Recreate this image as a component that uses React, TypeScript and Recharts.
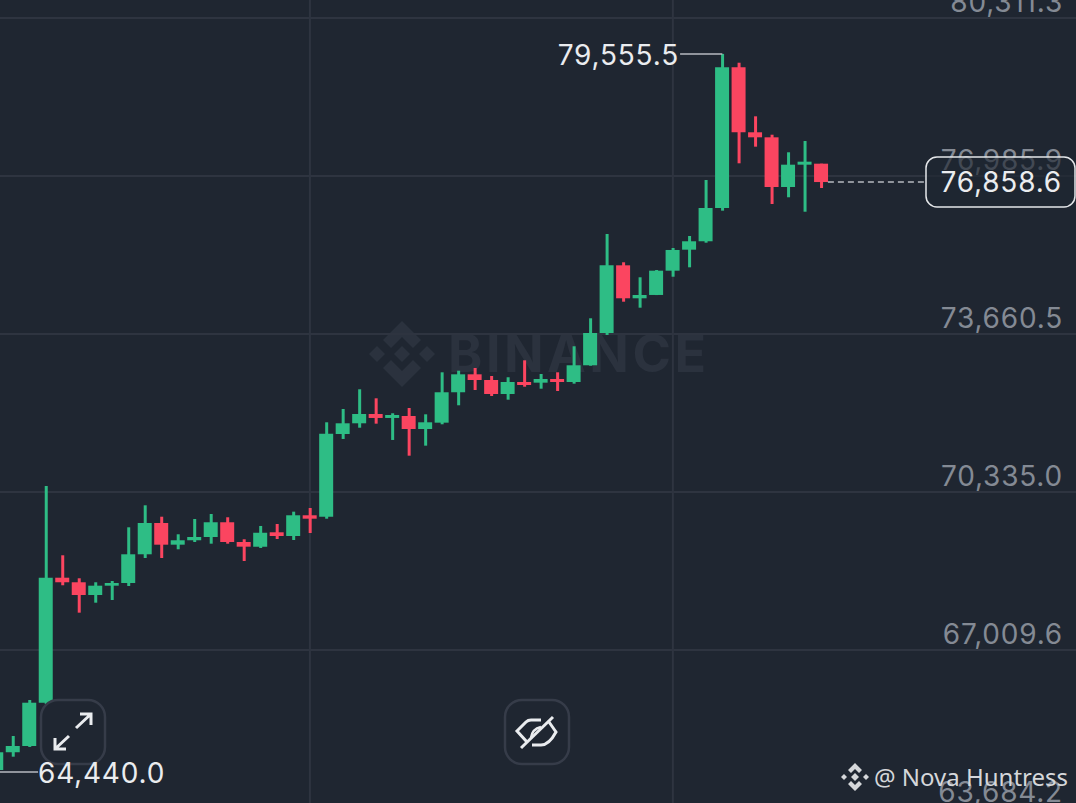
import {
  Bar,
  CartesianGrid,
  Cell,
  ComposedChart,
  ReferenceLine,
  XAxis,
  YAxis,
} from 'recharts';

const opens = [
  64484, 64857, 64989, 65900, 68531, 68435, 68167, 68363, 68420, 69024, 69683, 69226, 69319,
  69388, 69698, 69283, 69184, 69487, 69409, 69845, 69815, 71556, 71781, 71977, 71893, 71935,
  71661, 71794, 72434, 72812, 72692, 72398, 72650, 72636, 72713, 72650, 73002, 73682, 75106,
  74412, 74482, 74993, 75435, 75612, 76312, 79274, 77906, 77800, 76754, 77224, 77245,
];
const closes = [
  64857, 64989, 65900, 68531, 68435, 68167, 68363, 68420, 69024, 69683, 69226, 69319, 69388,
  69698, 69283, 69184, 69479, 69409, 69845, 69773, 71562, 71781, 71977, 71893, 71956, 71661,
  71802, 72434, 72812, 72692, 72398, 72650, 72587, 72713, 72650, 73002, 73682, 75106, 74412,
  74481, 74993, 75429, 75612, 76312, 79274, 77906, 77800, 76754, 77224, 77287, 76858.6,
];
const highs = [
  64884, 65200, 65957, 70461, 69003, 68519, 68435, 68462, 69592, 70055, 69815, 69445, 69767,
  69872, 69803, 69340, 69620, 69662, 69921, 69998, 71802, 72082, 72497, 72307, 71992, 72103,
  71970, 72854, 72888, 72945, 72777, 72750, 73107, 72819, 72854, 73402, 73991, 75765, 75170,
  74854, 75007, 75471, 75723, 76902, 79555.5, 79370, 78242, 77855, 77485, 77722, 77245,
];
const lows = [
  64440, 64764, 64969, 65873, 68372, 67795, 68005, 68062, 68357, 68946, 68946, 69129, 69283,
  69247, 69247, 68883, 69157, 69346, 69325, 69472, 69773, 71451, 71688, 71773, 71430, 71099,
  71310, 71760, 72160, 72482, 72356, 72278, 72551, 72509, 72461, 72615, 72993, 73640, 74340,
  74214, 74480, 74866, 75064, 75582, 76256, 77253, 77603, 76397, 76538, 76234, 76733,
];
const priceTicks = [80311.3, 76985.9, 73660.5, 70335.0, 67009.6, 63684.2];
const timeGridIndexes = [19, 41];
const highIndex = 44;
const highPrice = 79555.5;
const lowIndex = 0;
const lowPrice = 64440.0;
const lastIndex = 50;
const lastPrice = 76858.6;

const BG = '#1f2631';
const GRID = '#2e3440';
const UP = '#2ebd85';
const DOWN = '#fb4560';
const LABEL = '#848a94';
const BRIGHT = '#eaecef';
const MARKER = '#b7bac0';
const FONT = 'Inter, sans-serif';
const FONT_SIZE = 28;
const SPACING = 0.8;
const WIDTH = 1076;
const HEIGHT = 823;

const fmt = (v: number) =>
  v.toLocaleString('en-US', { minimumFractionDigits: 1, maximumFractionDigits: 1 });

const rows = opens.map((open, i) => ({
  i,
  wick: [lows[i], highs[i]],
  body: [Math.min(open, closes[i]), Math.max(open, closes[i])],
  color: closes[i] >= open ? UP : DOWN,
}));

const X_DOMAIN: [number, number] = [0.212, 65.44];
const Y_DOMAIN: [number, number] = [63368.3, 80690.1];

function PriceTick({ y, payload }: any) {
  return (
    <text
      x={1063}
      y={y - 6}
      textAnchor="end"
      fill={LABEL}
      fontSize={FONT_SIZE}
      letterSpacing={SPACING}
      fontFamily={FONT}
    >
      {fmt(payload.value)}
    </text>
  );
}

function Watermark() {
  return (
    <svg width={WIDTH} height={803} style={{ position: 'absolute', left: 0, top: 0 }}>
      <g fill="#2b323e">
        <path d="M402 321 L421 340 L413 348 L402 337 L391 348 L383 340 Z" />
        <path d="M402 387 L421 368 L413 360 L402 371 L391 360 L383 368 Z" />
        <path d="M402 346 L410 354 L402 362 L394 354 Z" />
        <path d="M377 346 L385 354 L377 362 L369 354 Z" />
        <path d="M427 346 L435 354 L427 362 L419 354 Z" />
      </g>
      <text x={448} y={372} fill="#2b323e" fontSize={52} fontWeight={700} fontFamily={FONT} textLength={258}>
        BINANCE
      </text>
    </svg>
  );
}

function Overlay() {
  return (
    <svg width={WIDTH} height={803} style={{ position: 'absolute', left: 0, top: 0 }}>
      <text x={679} y={65} textAnchor="end" fill={BRIGHT} fontSize={FONT_SIZE} letterSpacing={SPACING} fontFamily={FONT}>
        {fmt(highPrice)}
      </text>
      <rect x={41} y={700} width={64} height={64} rx={17} fill={BG} stroke="#363c49" strokeWidth={2.5} />
      <text x={38} y={783} fill={BRIGHT} fontSize={FONT_SIZE} letterSpacing={SPACING} fontFamily={FONT}>
        {fmt(lowPrice)}
      </text>
      <g fill="none" stroke={BRIGHT} strokeWidth={3}>
        <path d="M76 728 L91 714 M80 714 L91 714 L91 725" />
        <path d="M69 736 L55 749 M55 738 L55 749 L66 749" />
      </g>
      <rect x={505} y={700} width={64} height={64} rx={17} fill={BG} stroke="#363c49" strokeWidth={2.5} />
      <g fill="none" stroke={BRIGHT} strokeWidth={3}>
        <path d="M541 720 L531 720 Q528 720 526 722 L517 731 L527 742" />
        <path d="M532 745 L541 745 Q549 745 556 732 L549 722" />
        <path d="M553 717 L521 748" />
        <path d="M531 738 Q532 729 541 727" strokeWidth={2.5} />
      </g>
      <rect x={926} y={157} width={149} height={50} rx={11} fill={BG} fillOpacity={0.65} stroke="#e4e6e9" strokeWidth={1.5} />
      <text x={1062} y={192} textAnchor="end" fill={BRIGHT} fontSize={FONT_SIZE} letterSpacing={SPACING} fontFamily={FONT}>
        {fmt(lastPrice)}
      </text>
      <g fill="#d5d7da">
        <path d="M855 763 L862 770 L859 773 L855 769 L851 773 L848 770 Z" />
        <path d="M855 791 L862 784 L859 781 L855 785 L851 781 L848 784 Z" />
        <path d="M855 773 L859 777 L855 781 L851 777 Z" />
        <path d="M844 774 L847 777 L844 780 L841 777 Z" />
        <path d="M866 774 L869 777 L866 780 L863 777 Z" />
      </g>
      <text x={874} y={786} fill="#d5d7da" fontSize={24} fontFamily="'Noto Sans', sans-serif">
        @ Nova Huntress
      </text>
    </svg>
  );
}

export default function App() {
  return (
    <div
      style={{
        position: 'absolute',
        left: 0,
        top: 0,
        width: WIDTH,
        height: 803,
        overflow: 'hidden',
        background: BG,
      }}
    >
      <Watermark />
      <div style={{ position: 'absolute', left: 0, top: 0 }}>
        <ComposedChart
          width={WIDTH}
          height={HEIGHT}
          data={rows}
          margin={{ top: 0, right: 0, bottom: 0, left: 0 }}
        >
          <CartesianGrid
            xAxisId="wick"
            stroke={GRID}
            strokeWidth={2}
            horizontalValues={priceTicks}
            verticalValues={timeGridIndexes}
          />
          <XAxis xAxisId="wick" dataKey="i" type="number" domain={X_DOMAIN} allowDataOverflow hide />
          <XAxis xAxisId="body" dataKey="i" type="number" domain={X_DOMAIN} allowDataOverflow hide />
          <YAxis
            orientation="right"
            mirror
            width={60}
            type="number"
            domain={Y_DOMAIN}
            allowDataOverflow
            ticks={priceTicks}
            interval={0}
            axisLine={false}
            tickLine={false}
            tick={PriceTick}
          />
          <Bar xAxisId="wick" dataKey="wick" barSize={3} isAnimationActive={false}>
            {rows.map((r) => (
              <Cell key={r.i} fill={r.color} />
            ))}
          </Bar>
          <Bar xAxisId="body" dataKey="body" barSize={14} isAnimationActive={false}>
            {rows.map((r) => (
              <Cell key={r.i} fill={r.color} />
            ))}
          </Bar>
          <ReferenceLine
            xAxisId="wick"
            segment={[
              { x: 41.44, y: highPrice },
              { x: highIndex, y: highPrice },
            ]}
            stroke={MARKER}
            strokeWidth={1.5}
          />
          <ReferenceLine
            xAxisId="wick"
            segment={[
              { x: X_DOMAIN[0], y: lowPrice },
              { x: lowIndex + 2.52, y: lowPrice },
            ]}
            stroke={MARKER}
            strokeWidth={1.5}
          />
          <ReferenceLine
            xAxisId="wick"
            segment={[
              { x: lastIndex + 0.4, y: lastPrice },
              { x: 56.29, y: lastPrice },
            ]}
            stroke={MARKER}
            strokeWidth={1.5}
            strokeDasharray="6 4"
          />
        </ComposedChart>
      </div>
      <Overlay />
    </div>
  );
}
